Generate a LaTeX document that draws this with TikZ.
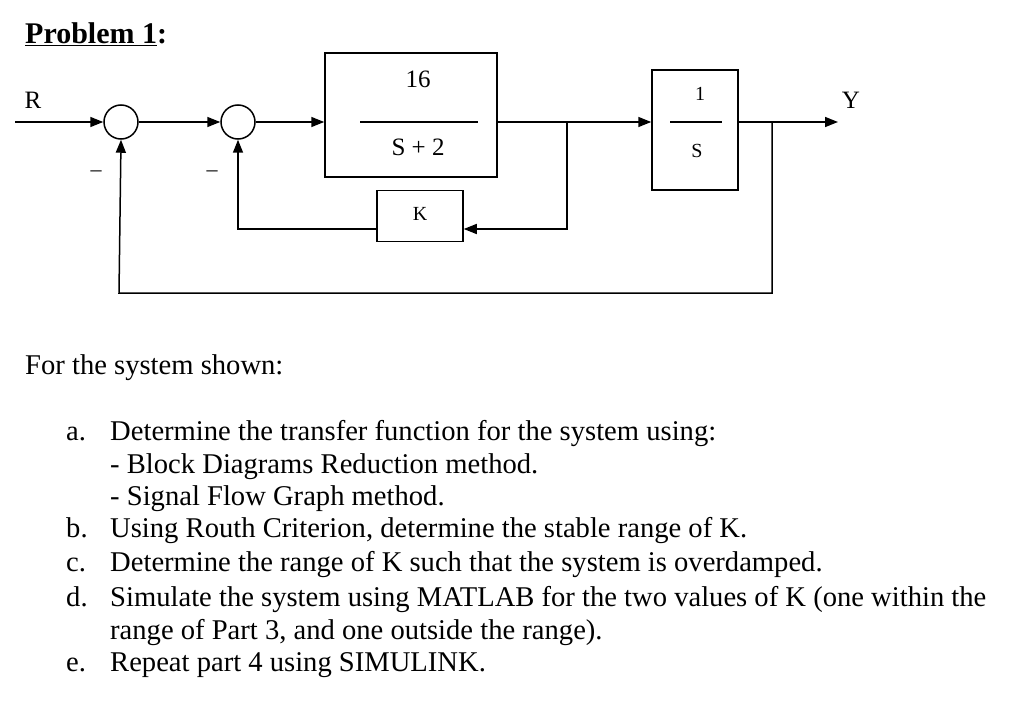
\documentclass[tikz,border=0pt]{standalone}
\usepackage{fontspec}
\setmainfont{Liberation Serif}
\usetikzlibrary{arrows.meta}
\begin{document}
\begin{tikzpicture}[x=1pt,y=-1pt,
  blk/.style={draw,line width=1.5pt,inner sep=0},
  sum/.style={circle,draw,line width=1.5pt,minimum size=34pt,inner sep=0},
  arr/.style={line width=1.5pt,-{Triangle[length=13pt,width=10pt]}},
  ln/.style={line width=1.5pt},
  lbl/.style={font=\fontsize{25}{27}\selectfont,anchor=base},
  txt/.style={font=\fontsize{28.6}{32}\selectfont,anchor=base west,inner sep=0}]
\useasboundingbox (0,0) rectangle (1024,714);
\node[font=\bfseries\fontsize{30}{32}\selectfont,anchor=base west,inner sep=0] (title) at (25,44) {\underline{Problem 1}:};
\node[lbl] (R) at (33,109) {R};
\coordinate (in) at (15,122);
\node[sum] (s1) at (121,122) {};
\node[sum] (s2) at (238,122) {};
\node[blk,minimum width=172pt,minimum height=124pt] (g1) at (411,115) {};
\node[lbl] (n16) at (418,88) {16};
\draw[ln] (360,122) -- (478,122);
\node[lbl] (d1) at (418,156) {S + 2};
\node[blk,minimum width=86pt,minimum height=120pt] (g2) at (695,130) {};
\node[font=\fontsize{20}{22}\selectfont,anchor=base] (n1) at (700,101) {1};
\draw[ln] (670,122) -- (722,122);
\node[font=\fontsize{20}{22}\selectfont,anchor=base] (d2) at (697,158) {S};
\node[blk,minimum width=86pt,minimum height=51pt] (k) at (420,216) {};
\node[font=\fontsize{20}{22}\selectfont] (kt) at (420,214) {K};
\node[lbl] (Y) at (851,109) {Y};
\coordinate (out) at (838,122);
\coordinate (b1) at (567,122);
\coordinate (b2) at (772,122);
\draw[arr] (in) -- (s1);
\draw[arr] (s1) -- (s2);
\draw[arr] (s2) -- (g1.west |- s2);
\draw[arr] (g1.east |- s2) -- (g2.west |- s2);
\draw[arr] (g2.east |- s2) -- (out);
\draw[arr] (b1) |- (k.east |- 0,229);
\draw[arr] (k.west |- 0,229) -| (s2.south);
\draw[arr] (b2) |- (119,293) -- (s1.south);
\node[font=\fontsize{22}{24}\selectfont] (m1) at (96,174) {--};
\node[font=\fontsize{22}{24}\selectfont] (m2) at (212,174) {--};
\node[txt] (t0) at (25,374) {For the system shown:};
\foreach \l/\y/\s in {a./440/Determine the transfer function for the system using:,
  b./537/{Using Routh Criterion, determine the stable range of K.},
  c./571/Determine the range of K such that the system is overdamped.,
  d./606/Simulate the system using MATLAB for the two values of K (one within the,
  e./671/Repeat part 4 using SIMULINK.}
  {\node[txt] at (66,\y) {\l}; \node[txt] at (110,\y) {\s};}
\node[txt] (t2) at (110,473) {- Block Diagrams Reduction method.};
\node[txt] (t3) at (110,505) {- Signal Flow Graph method.};
\node[txt] (t4) at (110,639) {range of Part 3, and one outside the range).};
\end{tikzpicture}
\end{document}
